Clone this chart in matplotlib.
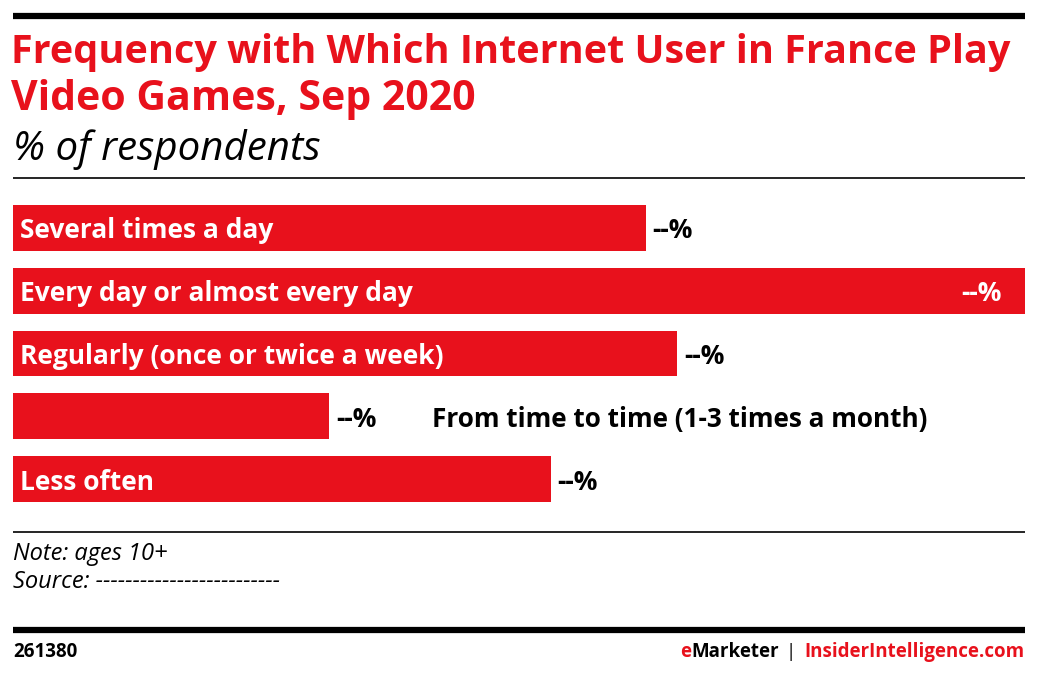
import matplotlib.pyplot as plt
from matplotlib.lines import Line2D

# data
categories = ["Several times a day", "Every day or almost every day",
              "Regularly (once or twice a week)", "From time to time (1-3 times a month)",
              "Less often"]
values = [20, 32, 21, 10, 17]
value_labels = ["--%", "--%", "--%", "--%", "--%"]

RED = "#e8111c"
W, H = 1038, 676
plt.rcParams['font.family'] = ['Open Sans', 'DejaVu Sans']

fig = plt.figure(figsize=(W / 100, H / 100), dpi=100)

def fx(px):
    return px / W

def fy(py):
    return 1 - py / H

def hline(py, lw):
    fig.add_artist(Line2D([fx(13), fx(1025)], [fy(py), fy(py)], color="black", lw=lw,
                          solid_capstyle="butt"))

hline(15.5, 4.5)
hline(178, 1.2)
hline(532, 1.2)
hline(630, 4.5)

fig.text(fx(11), fy(52), "Frequency with Which Internet User in France Play",
         color=RED, fontsize=28.5, fontweight="bold", va="center", ha="left")
fig.text(fx(11), fy(99), "Video Games, Sep 2020",
         color=RED, fontsize=29.5, fontweight="bold", va="center", ha="left")
fig.text(fx(13), fy(149), "% of respondents", color="black", fontsize=29,
         style="italic", va="center", ha="left")

fig.text(fx(13), fy(554), "Note: ages 10+", fontsize=17, style="italic", va="center")
fig.text(fx(13), fy(582), "Source: -------------------------", fontsize=17,
         style="italic", va="center")
fig.text(fx(13), fy(652), "261380", fontsize=13.5, fontweight="bold", va="center")
fig.text(fx(1025), fy(652), "InsiderIntelligence.com", fontsize=13.5, fontweight="bold",
         color=RED, va="center", ha="right")
fig.text(fx(791), fy(652), "|", fontsize=13.5, color="black", va="center", ha="center")
mk = fig.text(fx(779), fy(652), "Marketer", fontsize=13.5, fontweight="bold",
              color="black", va="center", ha="right")

# bar area
ax = fig.add_axes([fx(13), fy(510.4), fx(1025) - fx(13), (510.4 - 196.6) / H])
y = list(range(len(categories)))
ax.barh(y, values, height=0.73, color=RED)
ax.set_xlim(0, max(values))
ax.set_ylim(len(categories) - 0.5, -0.5)
ax.axis("off")

ax.annotate("e", xy=(0, 0.5), xycoords=mk, fontsize=13.5, fontweight="bold",
            color=RED, va="center", ha="right", annotation_clip=False)

dy = -3  # nudge labels down a little
for i, (cat, v, lab) in enumerate(zip(categories, values, value_labels)):
    if v == max(values):
        ax.annotate(lab, (v, i), xytext=(-23, dy), textcoords="offset pixels",
                    ha="right", va="center", color="white", fontsize=19, fontweight="bold")
    else:
        ax.annotate(lab, (v, i), xytext=(7, dy), textcoords="offset pixels",
                    ha="left", va="center", color="black", fontsize=19, fontweight="bold")
    if i == 3:
        ax.annotate(cat, (v, i), xytext=(103, dy), textcoords="offset pixels",
                    ha="left", va="center", color="black", fontsize=18.8, fontweight="bold")
    else:
        ax.annotate(cat, (0, i), xytext=(7, dy), textcoords="offset pixels",
                    ha="left", va="center", color="white", fontsize=19, fontweight="bold")

fig.savefig("out.png", dpi=100)
